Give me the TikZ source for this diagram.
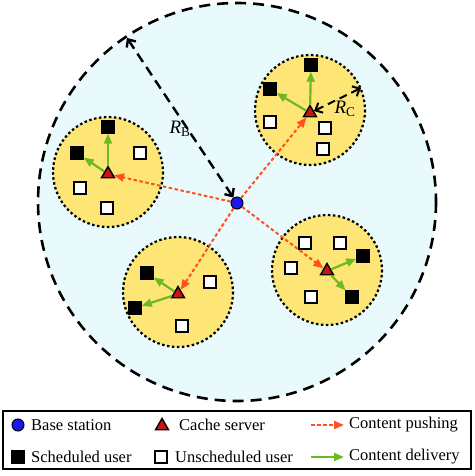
\documentclass[tikz,border=0pt]{standalone}
\usepackage{fontspec}
\setmainfont{Liberation Serif}
\usetikzlibrary{shapes.geometric,arrows.meta,positioning}
\definecolor{cellblue}{RGB}{233,250,252}
\definecolor{cacheyellow}{RGB}{253,229,118}
\definecolor{pushorange}{RGB}{255,80,30}
\definecolor{deliverygreen}{RGB}{110,185,30}
\definecolor{bsblue}{RGB}{25,25,235}
\definecolor{serverred}{RGB}{200,20,20}

\begin{document}
\begin{tikzpicture}[x=1pt, y=-1pt,
    font=\fontsize{16.5}{19}\selectfont,
    bs/.style={circle, draw, fill=bsblue, minimum size=12pt, inner sep=0pt, line width=1pt},
    server/.style={regular polygon, regular polygon sides=3, draw, fill=serverred,
        minimum size=15pt, inner sep=0pt, line width=1.4pt},
    sched/.style={rectangle, draw, fill=black, minimum size=13pt, inner sep=0pt},
    unsched/.style={rectangle, draw, fill=white, minimum size=12pt, inner sep=0pt, line width=1.6pt},
    push/.style={-{Triangle[length=10pt,width=8pt]}, pushorange, line width=2pt,
        dash pattern=on 3.5pt off 2.5pt},
    deliver/.style={-{Triangle[length=10pt,width=8pt]}, deliverygreen, line width=2.2pt},
    cell/.style={fill=cacheyellow, draw, line width=2.2pt, dash pattern=on 2.5pt off 2.5pt},
    radius line/.style={{Straight Barb[length=6pt,width=11pt]}-{Straight Barb[length=6pt,width=11pt]},
        line width=2.4pt, dash pattern=on 10pt off 6pt}]
    \useasboundingbox (0,0) rectangle (474,476);

    % macro cell and cache cells
    \draw[fill=cellblue, line width=2.6pt, dash pattern=on 11pt off 7pt] (237,202) circle[radius=199];
    \draw[cell] (310,110) circle[radius=55];
    \draw[cell] (108,172) circle[radius=55];
    \draw[cell] (178,292) circle[radius=55];
    \draw[cell] (327,270) circle[radius=55];

    % cache servers and base station
    \node[bs] (bs) at (237,203) {};
    \node[server] (srvA) at (310,113) {};
    \node[server] (srvB) at (108,174) {};
    \node[server] (srvC) at (178,294) {};
    \node[server] (srvD) at (327,271) {};

    % users
    \node[sched] (uA1) at (311,65) {};
    \node[sched] (uA2) at (270,89) {};
    \node[unsched] (uA3) at (270,122) {};
    \node[unsched] (uA4) at (325,128) {};
    \node[unsched] (uA5) at (323,149) {};

    \node[sched] (uB1) at (108,127) {};
    \node[sched] (uB2) at (77,153) {};
    \node[unsched] (uB3) at (140,153) {};
    \node[unsched] (uB4) at (80,188) {};
    \node[unsched] (uB5) at (107,208) {};

    \node[sched] (uC1) at (147,273) {};
    \node[sched] (uC2) at (135,308) {};
    \node[unsched] (uC3) at (210,282) {};
    \node[unsched] (uC4) at (182,326) {};

    \node[sched] (uD1) at (363,256) {};
    \node[sched] (uD2) at (352,297) {};
    \node[unsched] (uD3) at (305,243) {};
    \node[unsched] (uD4) at (340,243) {};
    \node[unsched] (uD5) at (291,268) {};
    \node[unsched] (uD6) at (311,297) {};

    % content pushing
    \foreach \s in {srvA,srvB,srvC,srvD}
        \draw[push] (bs) -- (\s);

    % content delivery
    \draw[deliver] (srvA) -- (uA1);
    \draw[deliver] (srvA) -- (uA2);
    \draw[deliver] (srvB) -- (uB1);
    \draw[deliver] (srvB) -- (uB2);
    \draw[deliver] (srvC) -- (uC1);
    \draw[deliver] (srvC) -- (uC2);
    \draw[deliver] (srvD) -- (uD1);
    \draw[deliver] (srvD) -- (uD2);

    % radii
    \coordinate (edgeB) at (127,38);
    \coordinate (edgeC) at (361,88);
    \draw[radius line] (bs) -- (edgeB);
    \draw[radius line, line width=2pt, dash pattern=on 8pt off 5pt] (srvA) -- (edgeC);
    \node (lblB) at (180,129) {\fontsize{19}{21}\selectfont\itshape R\textsubscript{\upshape B}};
    \node (lblC) at (345,109) {\fontsize{19}{21}\selectfont\itshape R\textsubscript{\upshape C}};

    % legend
    \draw[line width=2.2pt] (3,411) rectangle (471,469);
    \node[bs] (legBs) at (18,425) {};
    \node[anchor=west, inner sep=0pt] (txtBs) at (31,425) {Base station};
    \node[server] (legSrv) at (162,426) {};
    \node[anchor=west, inner sep=0pt] (txtSrv) at (179,425) {Cache server};
    \coordinate (pushL) at (311,425);
    \coordinate (pushR) at (344,425);
    \draw[push] (pushL) -- (pushR);
    \node[anchor=west, inner sep=0pt] (txtPush) at (349,425) {Content pushing};

    \node[sched] (legSched) at (18,457) {};
    \node[anchor=west, inner sep=0pt] (txtSched) at (31,457) {Scheduled user};
    \node[unsched] (legUnsched) at (161,457) {};
    \node[anchor=west, inner sep=0pt] (txtUnsched) at (175,457) {Unscheduled user};
    \coordinate (delL) at (311,457);
    \coordinate (delR) at (344,457);
    \draw[deliver] (delL) -- (delR);
    \node[anchor=west, inner sep=0pt] (txtDel) at (349,457) {Content delivery};
\end{tikzpicture}
\end{document}
